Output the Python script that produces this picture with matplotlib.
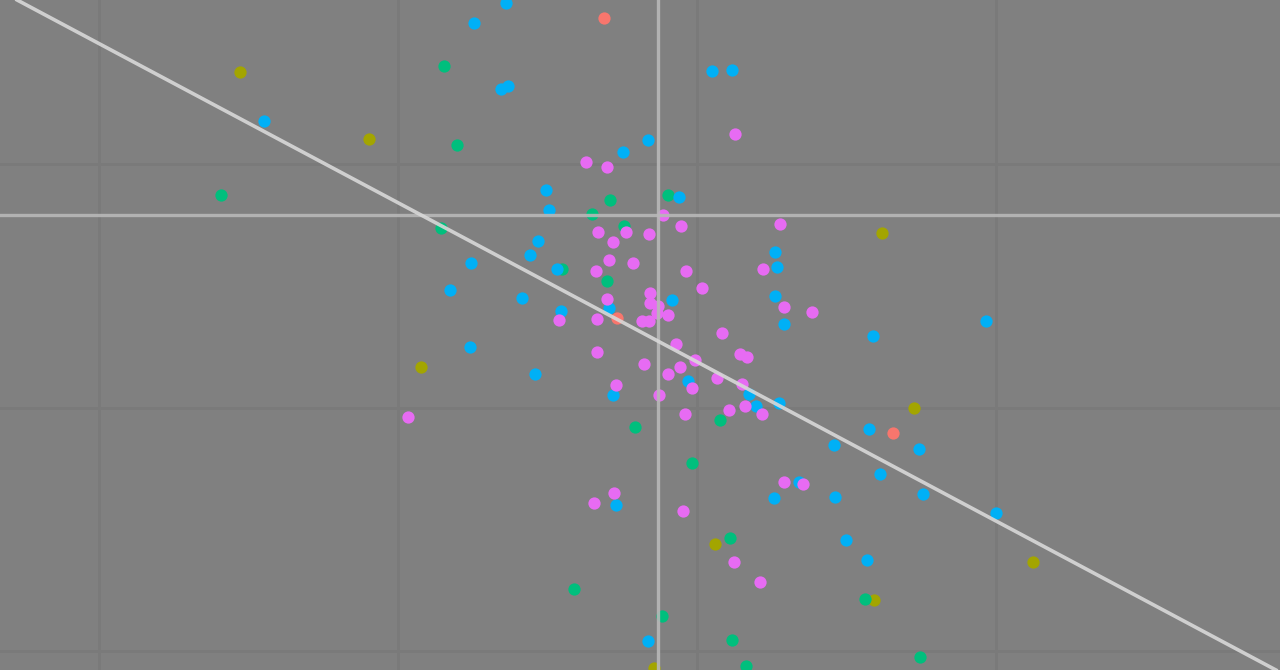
import matplotlib
matplotlib.use("Agg")
import matplotlib.pyplot as plt

# point coordinates per group (grid spacing = 1 unit)
red_x = [-0.310, -0.268, 0.656]
red_y = [1.603, 0.367, -0.104]

olive_x = [-1.528, -1.095, 0.619, -0.923, 0.726, 0.062, 1.126, 0.594, -0.142]
olive_y = [1.381, 1.106, 0.717, 0.169, -0.002, -0.559, -0.633, -0.790, -1.071]

green_x = [-0.846, -0.803, -1.593, -0.857, -0.292, -0.098, -0.350, -0.243, -0.452, -0.300,
           0.076, -0.206, -0.015, 0.110, -0.411, 0.563, -0.115, 0.117, 0.748, 0.164]
green_y = [1.406, 1.078, 0.874, 0.737, 0.854, 0.874, 0.795, 0.746, 0.570, 0.521,
           -0.051, -0.081, -0.227, -0.534, -0.745, -0.786, -0.855, -0.956, -1.023, -1.060]

blue_x = [-0.639, -0.746, 0.051, 0.118, -0.655, -0.630, -1.448, -0.163, -0.247, -0.506,
          -0.058, -0.493, -0.530, -0.559, -0.755, -0.468, 0.260, 0.268, -0.824, -0.585,
          -0.082, 0.263, -0.293, -0.455, 0.293, 0.590, 0.966, -0.759, -0.542, -0.030,
          -0.281, 0.173, 0.276, 0.198, 0.576, 0.459, 0.744, 0.613, 0.757, 1.001,
          0.343, 0.259, 0.463, -0.270, 0.500, 0.571, -0.164]
blue_y = [1.662, 1.580, 1.384, 1.388, 1.310, 1.323, 1.180, 1.100, 1.050, 0.893,
          0.866, 0.813, 0.684, 0.628, 0.595, 0.571, 0.641, 0.580, 0.484, 0.453,
          0.444, 0.459, 0.409, 0.396, 0.343, 0.293, 0.356, 0.251, 0.139, 0.111,
          0.052, 0.055, 0.018, 0.007, -0.088, -0.153, -0.170, -0.274, -0.355, -0.434,
          -0.304, -0.370, -0.367, -0.401, -0.543, -0.626, -0.959]

pink_x = [0.127, -0.371, -0.301, -0.112, -0.237, -0.329, -0.159, -0.052, 0.279, -0.279,
          -0.294, -0.215, -0.338, -0.037, 0.223, 0.018, -0.301, -0.155, -0.156, -0.130,
          0.292, 0.387, -0.460, -0.335, -0.184, -0.161, -0.132, -0.095, 0.085, -0.068,
          -0.335, 0.143, 0.169, -0.007, -0.177, -0.057, -0.095, 0.069, -0.015, -0.269,
          0.152, -0.127, 0.161, 0.108, -0.038, 0.219, -0.965, 0.293, 0.355, -0.276,
          -0.343, -0.045, 0.125, 0.212]
pink_y = [1.126, 1.010, 0.991, 0.791, 0.721, 0.722, 0.714, 0.746, 0.756, 0.682,
          0.607, 0.596, 0.563, 0.563, 0.571, 0.491, 0.446, 0.470, 0.432, 0.420,
          0.415, 0.395, 0.360, 0.363, 0.356, 0.357, 0.389, 0.383, 0.306, 0.263,
          0.230, 0.222, 0.210, 0.195, 0.180, 0.169, 0.137, 0.123, 0.083, 0.094,
          0.097, 0.052, 0.008, -0.009, -0.027, -0.027, -0.037, -0.305, -0.314, -0.352,
          -0.392, -0.425, -0.633, -0.718]

groups = [
    (red_x, red_y, "#F8766D"),
    (olive_x, olive_y, "#A3A500"),
    (green_x, green_y, "#00BF7D"),
    (blue_x, blue_y, "#00B0F6"),
    (pink_x, pink_y, "#E76BF3"),
]

# reference lines
vline_x = -0.129
hline_y = 0.794
fit_intercept = 0.189
fit_slope = -0.654

fig = plt.figure(figsize=(12.8, 6.7), dpi=100)
ax = fig.add_axes([0, 0, 1, 1])
ax.set_facecolor("#808080")
fig.patch.set_facecolor("#808080")

for gx, gy, col in groups:
    ax.scatter(gx, gy, s=78, color=col, linewidths=0, zorder=2)

ax.axvline(vline_x, color="#b8b8b8", lw=2.4, alpha=0.9, zorder=3)
ax.axhline(hline_y, color="#b8b8b8", lw=2.4, alpha=0.9, zorder=3)
ax.axline((0, fit_intercept), slope=fit_slope, color="#d8d8d8", lw=2.6, alpha=0.9, zorder=4)

ax.set_xlim(-2.331, 1.951)
ax.set_ylim(-1.078, 1.676)
ax.set_xticks([-2, -1, 0, 1])
ax.set_yticks([-1, 0, 1])
ax.grid(True, color="#7a7a7a", lw=2.0, zorder=0)
ax.set_axisbelow(True)
ax.tick_params(length=0, labelbottom=False, labelleft=False)
for sp in ax.spines.values():
    sp.set_visible(False)

fig.savefig("out.png", dpi=100, facecolor=fig.get_facecolor())
